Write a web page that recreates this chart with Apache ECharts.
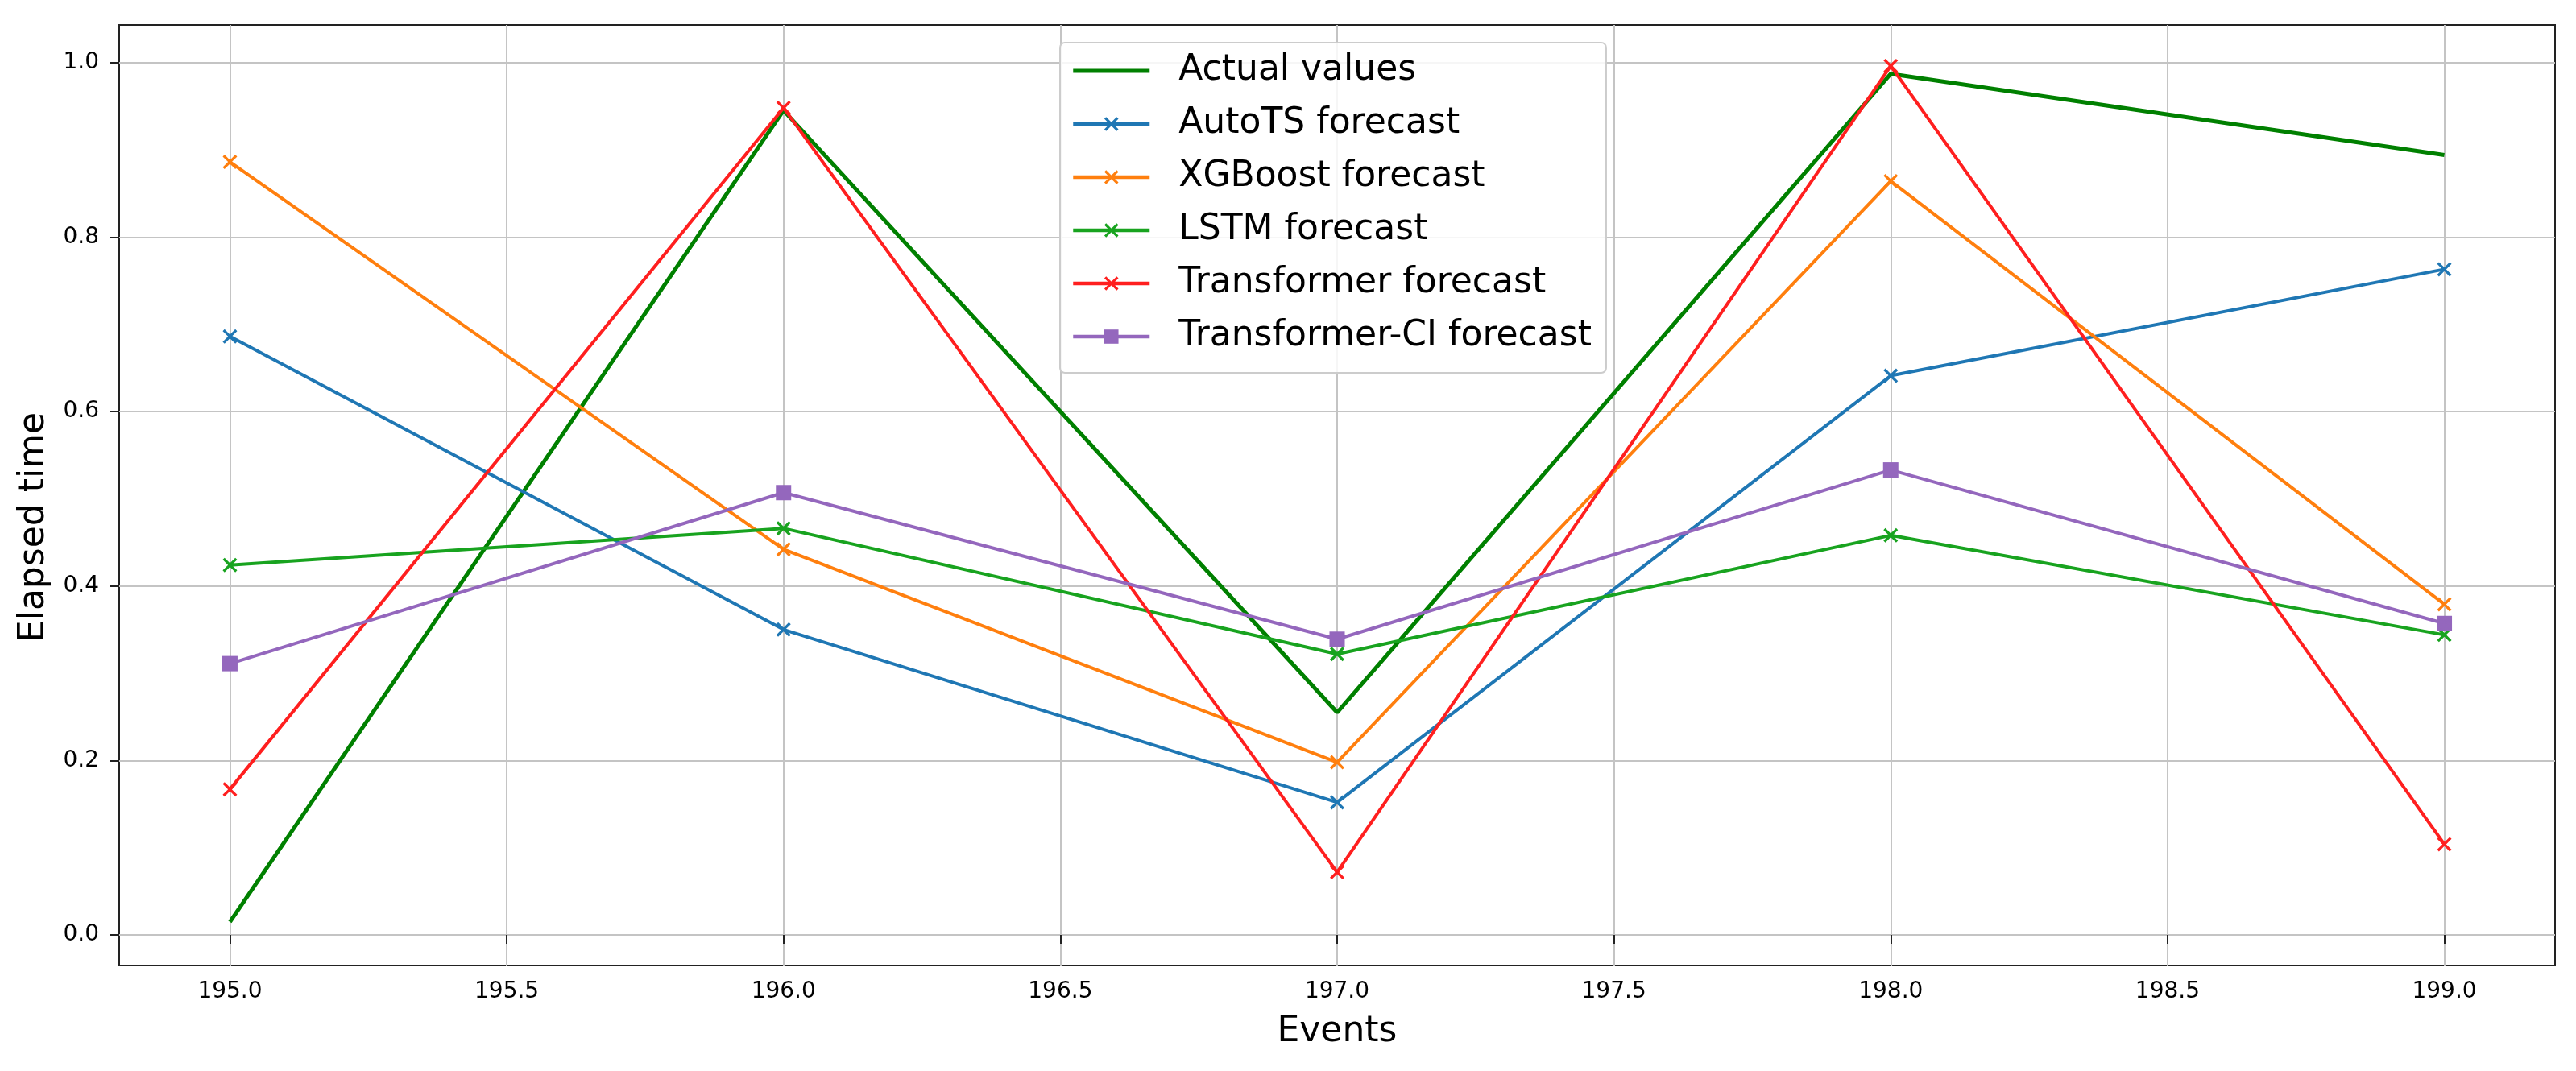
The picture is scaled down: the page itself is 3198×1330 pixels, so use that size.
<!DOCTYPE html>
<html>
<head>
<meta charset="utf-8">
<script src="https://cdn.jsdelivr.net/npm/echarts@6/dist/echarts.min.js"></script>
<style>
html,body{margin:0;padding:0;background:#fff;}
#chart{width:3198px;height:1330px;}
</style>
</head>
<body>
<div id="chart"></div>
<script>
// ---- data ----
const events = [195, 196, 197, 198, 199];
const actualValues = [0.015, 0.945, 0.255, 0.987, 0.894];
const autotsForecast = [0.686, 0.350, 0.152, 0.641, 0.763];
const xgboostForecast = [0.886, 0.442, 0.198, 0.864, 0.379];
const lstmForecast = [0.424, 0.466, 0.322, 0.458, 0.344];
const transformerForecast = [0.167, 0.948, 0.072, 0.996, 0.104];
const transformerCIForecast = [0.311, 0.507, 0.339, 0.533, 0.357];
const xTicks = [195.0, 195.5, 196.0, 196.5, 197.0, 197.5, 198.0, 198.5, 199.0];
const yTicks = [0.0, 0.2, 0.4, 0.6, 0.8, 1.0];
const seriesNames = ['Actual values', 'AutoTS forecast', 'XGBoost forecast', 'LSTM forecast', 'Transformer forecast', 'Transformer-CI forecast'];

// ---- styling ----
const FONT = 'DejaVu Sans';
const X_MARK = 'path://M0,1.3L1.3,0L5,3.7L8.7,0L10,1.3L6.3,5L10,8.7L8.7,10L5,6.3L1.3,10L0,8.7L3.7,5Z';
const colors = ['#008000', '#1f77b4', '#ff7f0e', '#18a31f', '#ff1f1f', '#9467bd'];

function pairs(vals) { return events.map((e, i) => [e, vals[i]]); }

const seriesData = [actualValues, autotsForecast, xgboostForecast, lstmForecast, transformerForecast, transformerCIForecast];
const symbols = ['none', X_MARK, X_MARK, X_MARK, X_MARK, 'rect'];
const symbolSizes = [0, 18, 18, 18, 18, 19];
const widths = [5, 4, 4, 4, 4, 4];

const series = seriesNames.map((name, i) => ({
  name: name,
  type: 'line',
  data: pairs(seriesData[i]),
  symbol: symbols[i],
  symbolSize: symbolSizes[i],
  showSymbol: symbols[i] !== 'none',
  lineStyle: { color: colors[i], width: widths[i] },
  itemStyle: { color: colors[i], borderWidth: 0 },
  emphasis: { disabled: true },
  animation: false,
  z: 2 + i
}));

const chart = echarts.init(document.getElementById('chart'), null, { renderer: 'canvas' });
chart.setOption({
  backgroundColor: '#ffffff',
  animation: false,
  textStyle: { fontFamily: FONT },
  grid: {
    left: 148, right: 26, top: 31, bottom: 131,
    show: true, borderColor: '#222222', borderWidth: 2, backgroundColor: 'transparent'
  },
  legend: {
    orient: 'vertical',
    left: 1316, top: 53,
    padding: [13, 18, 23, 14],
    itemWidth: 95, itemHeight: 22, itemGap: 22,
    backgroundColor: 'rgba(255,255,255,0.85)',
    borderColor: '#cccccc', borderWidth: 2, borderRadius: 6,
    lineStyle: { width: 4.5 },
    textStyle: { fontFamily: FONT, fontSize: 44, color: '#000', lineHeight: 44, padding: [0, 0, 0, 31] },
    data: seriesNames.map((n, i) => i === 0 ? { name: n, icon: 'path://M0,0L95,0L95,5L0,5Z' } : { name: n }),
    selectedMode: false
  },
  xAxis: {
    type: 'value',
    min: 194.8, max: 199.2,
    minInterval: 0.5, maxInterval: 0.5, splitNumber: 9,
    name: 'Events', nameLocation: 'middle', nameGap: 61,
    nameTextStyle: { fontFamily: FONT, fontSize: 44, color: '#000' },
    axisLine: { show: false },
    axisTick: { show: true, length: 11, lineStyle: { color: '#222', width: 2 }, customValues: xTicks },
    axisLabel: { fontFamily: FONT, fontSize: 28, color: '#000', margin: 19, customValues: xTicks,
      formatter: v => v.toFixed(1) },
    splitLine: { show: true, lineStyle: { color: '#c4c4c4', width: 2 } }
  },
  yAxis: {
    type: 'value',
    min: -0.035, max: 1.043,
    minInterval: 0.2, maxInterval: 0.2,
    name: 'Elapsed time', nameLocation: 'middle', nameGap: 83,
    nameTextStyle: { fontFamily: FONT, fontSize: 44, color: '#000', padding: [0, 80, 0, 0] },
    axisLine: { show: false },
    axisTick: { show: true, length: 11, lineStyle: { color: '#222', width: 2 }, customValues: yTicks },
    axisLabel: { fontFamily: FONT, fontSize: 28, color: '#000', margin: 25, customValues: yTicks,
      formatter: v => v.toFixed(1) },
    splitLine: { show: true, lineStyle: { color: '#c4c4c4', width: 2 } }
  },
  series: series
});
</script>
</body>
</html>
